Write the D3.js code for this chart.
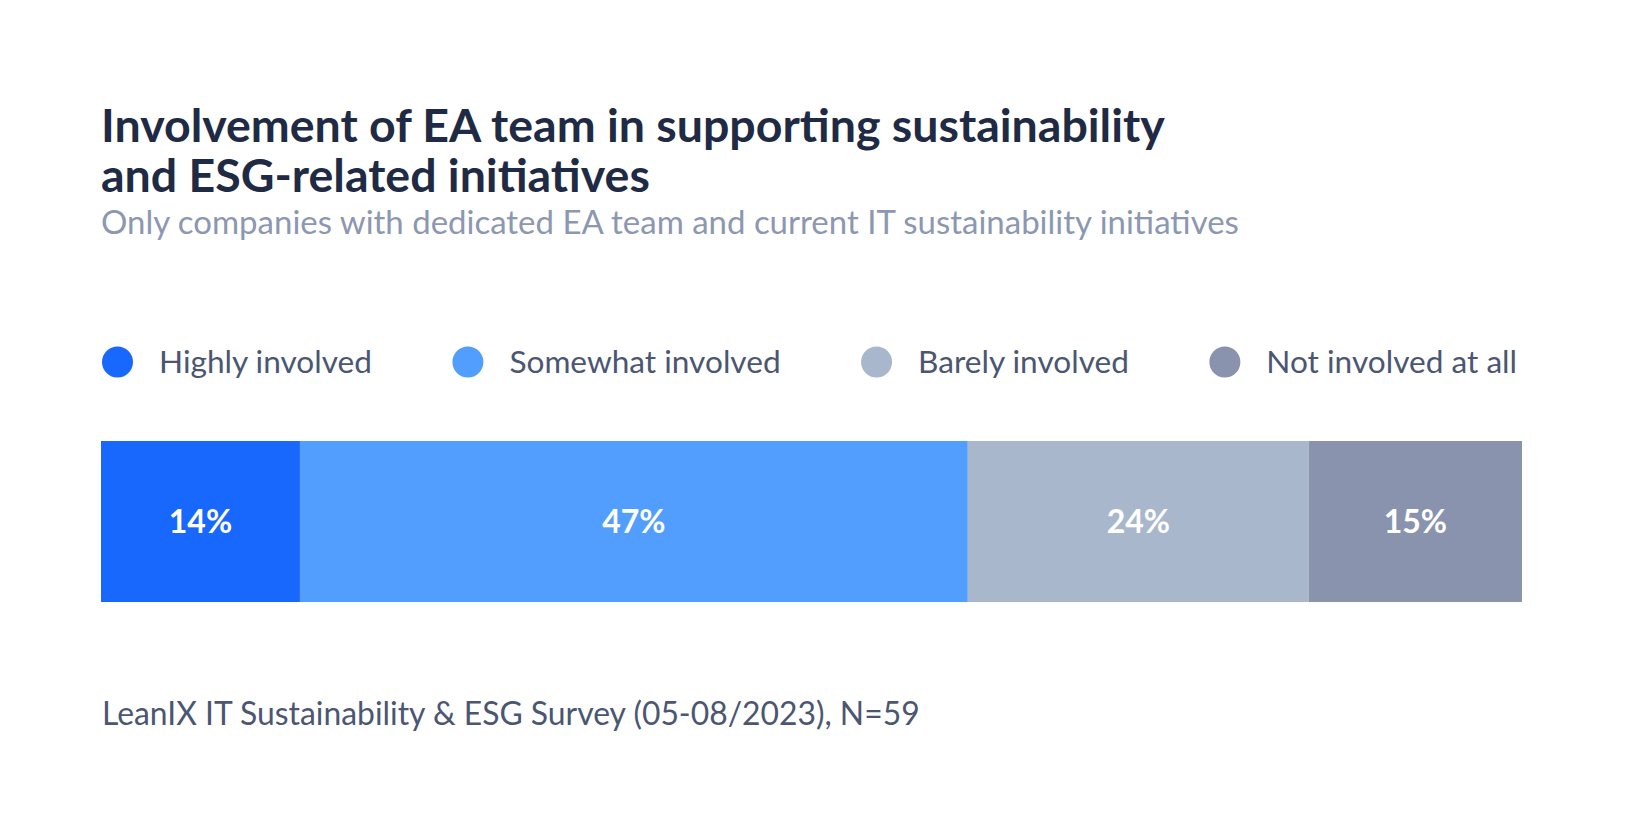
<!DOCTYPE html>
<html>
<head>
<meta charset="utf-8">
<script src="https://cdn.jsdelivr.net/npm/d3@7"></script>
<style>
  body { margin: 0; background: #fff; }
  svg { display: block; font-family: Lato, "Noto Sans", sans-serif; }
</style>
</head>
<body>
<script>
// data
var categories = ["Highly involved", "Somewhat involved", "Barely involved", "Not involved at all"];
var values = [14, 47, 24, 15];
var colors = ["#1868fe", "#519efe", "#a9b7cc", "#8993ad"];
var titleLines = ["Involvement of EA team in supporting sustainability", "and ESG-related initiatives"];
var subtitle = "Only companies with dedicated EA team and current IT sustainability initiatives";
var source = "LeanIX IT Sustainability & ESG Survey (05-08/2023), N=59";

var width = 1625, height = 833;
var margin = {left: 101, right: 103};

var svg = d3.select("body").append("svg")
    .attr("width", width)
    .attr("height", height);

// fit a text element to a wanted width by tweaking font size
function fitWidth(sel, target, w) {
  w = w || sel.node().getComputedTextLength();
  var fs = parseFloat(sel.attr("font-size"));
  sel.attr("font-size", fs * target / w);
  return fs * target / w;
}

// title, two lines in one text element
var title = svg.append("text")
    .attr("x", margin.left)
    .attr("y", 142)
    .attr("font-size", 42)
    .attr("font-weight", 700)
    .attr("fill", "#1f2a44");
title.selectAll("tspan")
    .data(titleLines)
    .enter().append("tspan")
    .attr("x", margin.left)
    .attr("dy", function(d, i) { return i === 0 ? 0 : 50; })
    .text(function(d) { return d; });
fitWidth(title, 1064, title.select("tspan").node().getComputedTextLength());

var sub = svg.append("text")
    .attr("x", margin.left)
    .attr("y", 234)
    .attr("font-size", 28)
    .attr("fill", "#8c97b1")
    .text(subtitle);
fitWidth(sub, 1138);

// x scale for the stacked bar
var x = d3.scaleLinear()
    .domain([0, d3.sum(values)])
    .range([margin.left, width - margin.right]);

var color = d3.scaleOrdinal().domain(categories).range(colors);

var stacked = [];
var acc = 0;
values.forEach(function(v, i) {
  stacked.push({key: categories[i], value: v, x0: acc, x1: acc + v});
  acc += v;
});

// legend, spread across the bar width
var legend = svg.append("g").attr("class", "legend");
var items = legend.selectAll("g")
    .data(categories)
    .enter().append("g");

items.append("circle")
    .attr("cx", 15.5)
    .attr("cy", 362)
    .attr("r", 15.5)
    .attr("fill", function(d) { return color(d); });

items.append("text")
    .attr("x", 57)
    .attr("y", 373)
    .attr("font-size", 28)
    .attr("fill", "#4b5672")
    .text(function(d) { return d; });

var lfs = fitWidth(items.select("text").filter(function(d, i) { return i === 0; }), 213);
items.select("text").attr("font-size", lfs);

var itemWidths = [];
items.each(function() { itemWidths.push(this.getBBox().width); });
var gap = (x.range()[1] - 6 - margin.left - d3.sum(itemWidths)) / (categories.length - 1);
var pos = margin.left + 1;
items.attr("transform", function(d, i) {
  var t = "translate(" + pos + ",0)";
  pos += itemWidths[i] + gap;
  return t;
});

// bar
var barTop = 441, barH = 161;
svg.selectAll(".seg")
    .data(stacked)
    .enter().append("rect")
    .attr("class", "seg")
    .attr("x", function(d) { return x(d.x0); })
    .attr("y", barTop)
    .attr("width", function(d) { return x(d.x1) - x(d.x0); })
    .attr("height", barH)
    .attr("fill", function(d) { return color(d.key); });

svg.selectAll(".lbl")
    .data(stacked)
    .enter().append("text")
    .attr("class", "lbl")
    .attr("x", function(d) { return (x(d.x0) + x(d.x1)) / 2; })
    .attr("y", barTop + barH / 2)
    .attr("dy", "0.35em")
    .attr("text-anchor", "middle")
    .attr("font-size", 32)
    .attr("font-weight", 700)
    .attr("fill", "#fff")
    .text(function(d) { return d.value + "%"; });

// source note
var src = svg.append("text")
    .attr("x", margin.left + 1)
    .attr("y", 725)
    .attr("font-size", 28)
    .attr("fill", "#4b5672")
    .text(source);
fitWidth(src, 818);
</script>
</body>
</html>
